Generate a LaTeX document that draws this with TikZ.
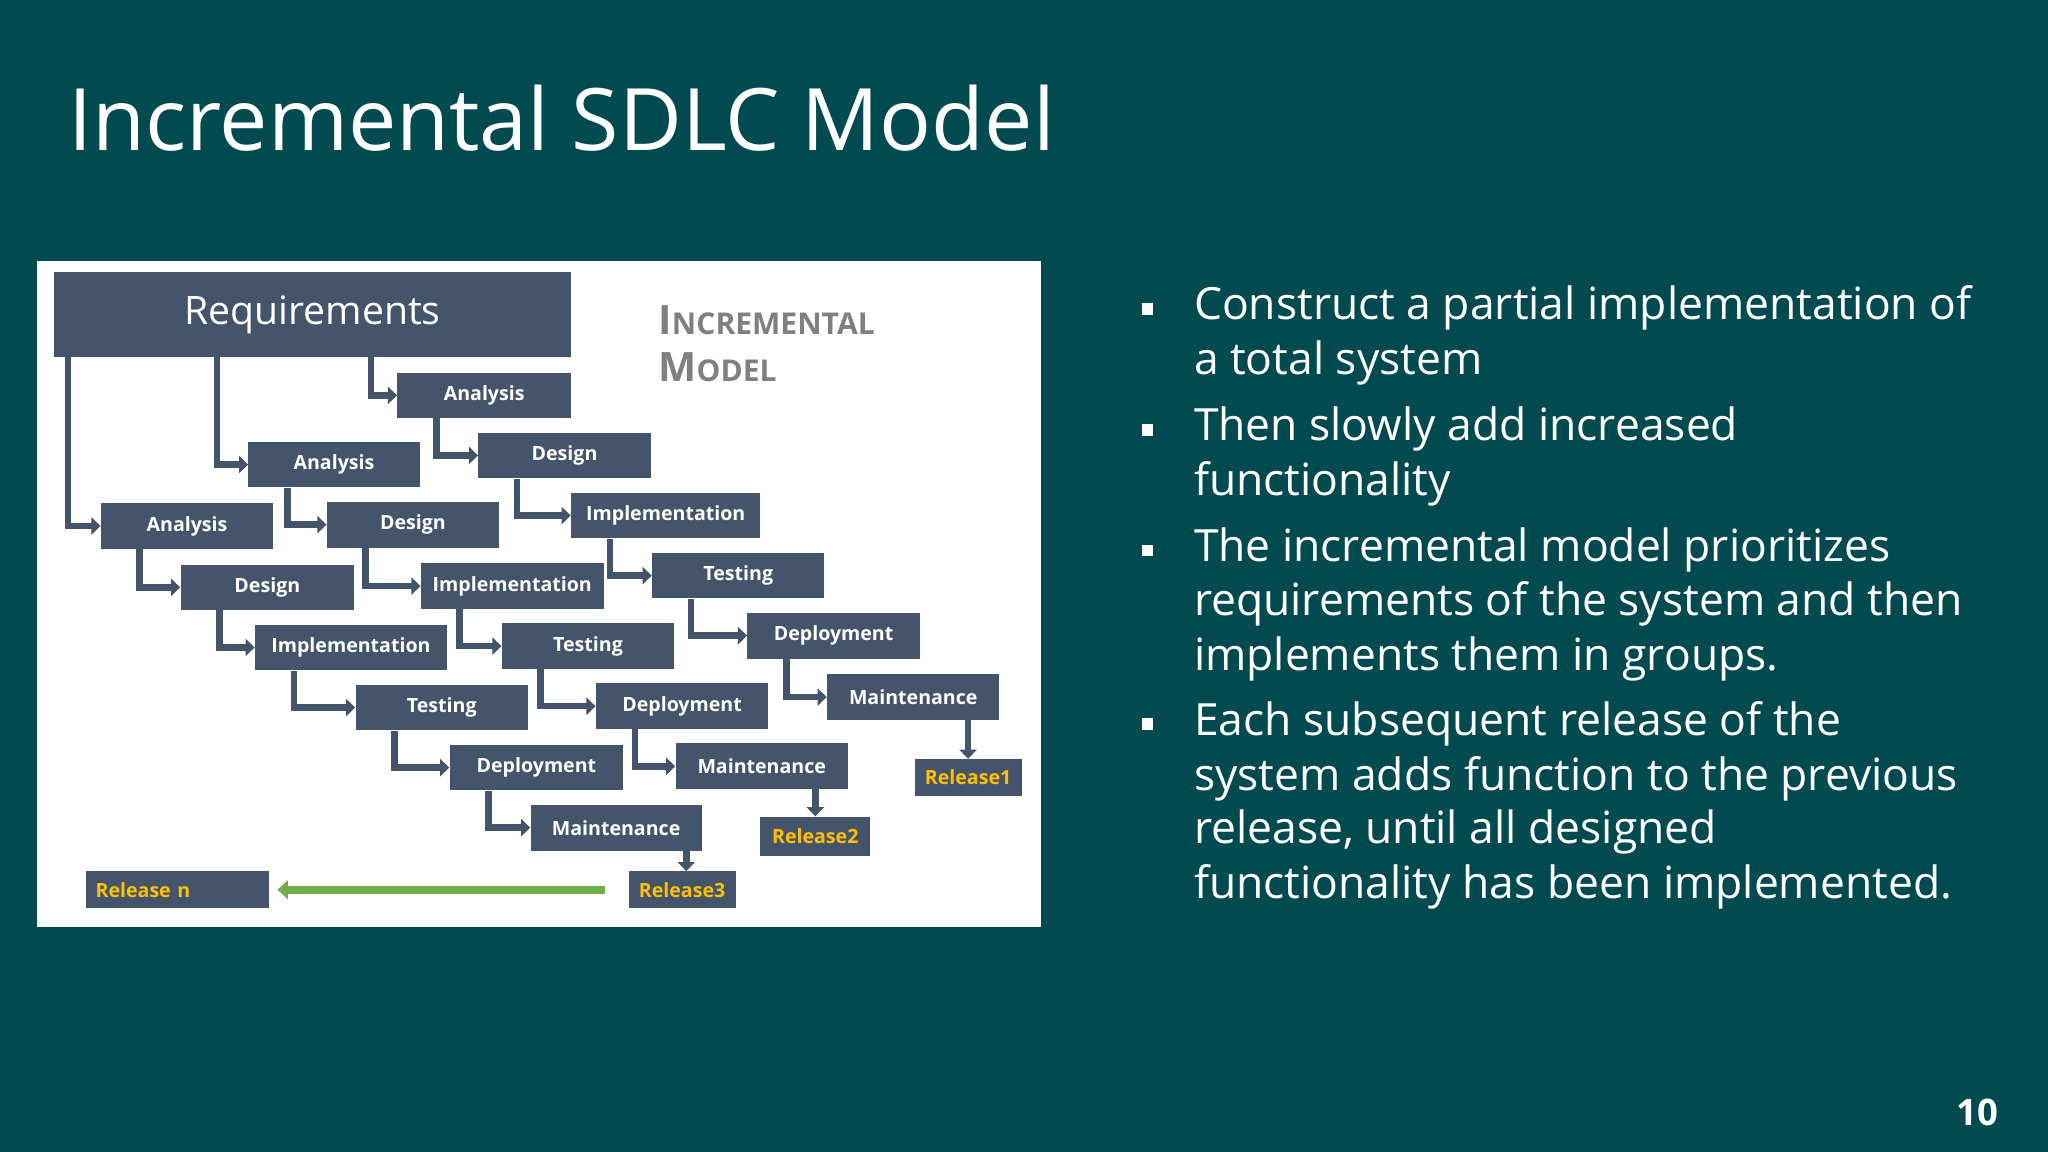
\documentclass[tikz,border=0pt]{standalone}
\usepackage{fontspec}
\setmainfont{Open Sans}
\usetikzlibrary{arrows.meta}
\definecolor{bg}{HTML}{004A50}
\definecolor{bx}{HTML}{44546A}
\definecolor{rel}{HTML}{FFC000}
\definecolor{grn}{HTML}{70AD47}
\begin{document}
\begin{tikzpicture}[x=1pt,y=-1pt,
  box/.style={fill=bx,text=white,anchor=north west,inner sep=0pt,font=\fontsize{15}{16}\selectfont\bfseries},
  rbox/.style={box,text=rel},
  conn/.style={draw=bx,line width=5pt,-{Triangle[width=13pt,length=7pt]}},
  bul/.style={anchor=base west,text=white,inner sep=0pt,font=\fontsize{34}{36}\selectfont}]
\fill[bg] (0,0) rectangle (1568,882);
\useasboundingbox (0,0) rectangle (1568,882);
\node[anchor=base west,text=white,inner sep=0pt,font=\fontsize{66}{66}\selectfont] (title) at (52,115) {Incremental SDLC Model};
\fill[white] (28,200) rectangle (797,710);
\newcommand{\bx}[7]{\node[#1,minimum width=#4-#3,minimum height=#6-#5] (#2) at (#3,#5) {#7};}
\bx{box}{req}{41}{437}{208}{273}{\fontsize{30}{32}\selectfont\mdseries Requirements}
\bx{box}{a3}{304}{437}{285}{320}{Analysis}
\bx{box}{d3}{366}{498}{331}{366}{Design}
\bx{box}{i3}{437}{582}{377}{412}{Implementation}
\bx{box}{t3}{499}{631}{423}{458}{Testing}
\bx{box}{p3}{572}{704}{469}{504}{Deployment}
\bx{box}{m3}{633}{765}{516}{551}{Maintenance}
\bx{rbox}{r1}{700}{782}{581}{609}{Release1}
\bx{box}{a2}{190}{321}{338}{373}{Analysis}
\bx{box}{d2}{250}{382}{384}{419}{Design}
\bx{box}{i2}{322}{462}{431}{466}{Implementation}
\bx{box}{t2}{384}{516}{477}{512}{Testing}
\bx{box}{p2}{456}{588}{523}{558}{Deployment}
\bx{box}{m2}{517}{649}{569}{604}{Maintenance}
\bx{rbox}{r2}{582}{666}{625}{655}{Release2}
\bx{box}{a1}{77}{209}{385}{420}{Analysis}
\bx{box}{d1}{138}{271}{432}{467}{Design}
\bx{box}{i1}{195}{342}{478}{513}{Implementation}
\bx{box}{t1}{272}{404}{524}{559}{Testing}
\bx{box}{p1}{344}{477}{570}{605}{Deployment}
\bx{box}{m1}{406}{537}{616}{651}{Maintenance}
\bx{rbox}{r3}{481}{563}{667}{695}{Release3}
\node[rbox,text width=126pt,align=left,inner xsep=7pt,minimum height=28pt] (rn) at (66,667) {Release n};
\draw[conn] ([xshift=45pt]req.south) |- (a3.west);
\draw[conn] ([xshift=-73pt]req.south) |- (a2.west);
\draw[conn] ([xshift=11pt]req.south west) |- (a1.west);
\foreach \a/\b in {a3/d3,d3/i3,i3/t3,t3/p3,p3/m3,a2/d2,d2/i2,i2/t2,t2/p2,p2/m2,a1/d1,d1/i1,i1/t1,t1/p1,p1/m1}
  \draw[conn] ([xshift=30pt]\a.south west) |- (\b.west);
\draw[conn] (m3.south -| r1) -- (r1.north);
\draw[conn] (m2.south -| r2) -- (r2.north);
\draw[conn] ([xshift=-12pt]m1.south east) -- ([xshift=-12pt]m1.south east |- r3.north);
\draw[draw=grn,line width=6pt,-{Triangle[width=14pt,length=8pt]}] ([xshift=-18pt]r3.west) -- ([xshift=6pt]rn.east);
\node[anchor=base west,inner sep=0pt,text=gray,font=\fontsize{31}{31}\selectfont\bfseries] (t1l) at (504,256) {I\fontsize{23}{23}\selectfont NCREMENTAL};
\node[anchor=base west,inner sep=0pt,text=gray,font=\fontsize{31}{31}\selectfont\bfseries] (t2l) at (504,292) {M\fontsize{23}{23}\selectfont ODEL};
\foreach \y/\t in {245/Construct a partial implementation of,287/a total system,337/Then slowly add increased,379/functionality,430/The incremental model prioritizes,471/requirements of the system and then,513/implements them in groups.,563/Each subsequent release of the,605/system adds function to the previous,646/{release, until all designed},688/functionality has been implemented.}
  \node[bul] at (914,\y) {\t};
\foreach \y in {232,325,417,550}
  \fill[white] (874,\y) rectangle (883,\y+9);
\node[anchor=base east,inner sep=0pt,text=white,font=\fontsize{28}{28}\selectfont\bfseries] (pg) at (1530,862) {10};
\end{tikzpicture}
\end{document}
